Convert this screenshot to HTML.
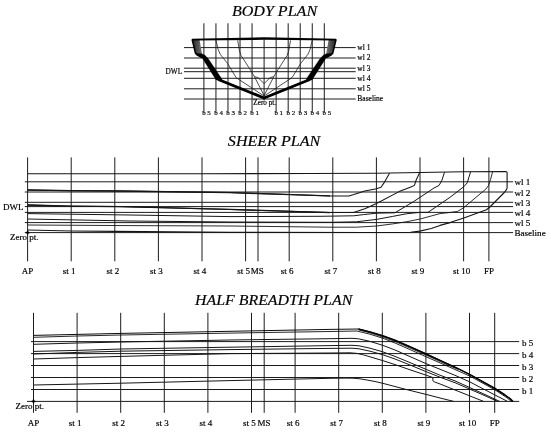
<!DOCTYPE html>
<html><head><meta charset="utf-8"><title>Lines plan</title>
<style>
html,body{margin:0;padding:0;background:#fff;}
svg{display:block;}
svg text{font-family:"Liberation Serif","DejaVu Serif",serif;fill:#000;stroke:#000;stroke-width:0.18px;}
</style></head><body>
<svg width="550" height="436" viewBox="0 0 550 436">
<defs>
<linearGradient id="gL" x1="0" x2="1" y1="0" y2="0"><stop offset="0" stop-color="#222"/><stop offset="0.5" stop-color="#555"/><stop offset="1" stop-color="#999"/></linearGradient>
<linearGradient id="gR" x1="1" x2="0" y1="0" y2="0"><stop offset="0" stop-color="#222"/><stop offset="0.5" stop-color="#555"/><stop offset="1" stop-color="#999"/></linearGradient>
</defs>
<rect width="550" height="436" fill="#fff"/>
<text transform="translate(274.5,15.6) scale(1.085,1)" font-size="14.8" font-style="italic" stroke="none" text-anchor="middle">BODY PLAN</text>
<line x1="203.90000000000003" y1="23.3" x2="203.90000000000003" y2="112.5" stroke="#1c1c1c" stroke-width="1.0"/>
<line x1="215.94000000000003" y1="23.3" x2="215.94000000000003" y2="112.5" stroke="#1c1c1c" stroke-width="1.0"/>
<line x1="227.98000000000002" y1="23.3" x2="227.98000000000002" y2="112.5" stroke="#1c1c1c" stroke-width="1.0"/>
<line x1="240.02000000000004" y1="23.3" x2="240.02000000000004" y2="112.5" stroke="#1c1c1c" stroke-width="1.0"/>
<line x1="252.06000000000003" y1="23.3" x2="252.06000000000003" y2="112.5" stroke="#1c1c1c" stroke-width="1.0"/>
<line x1="264.1" y1="39" x2="264.1" y2="100.5" stroke="#1c1c1c" stroke-width="1.0"/>
<line x1="276.14000000000004" y1="23.3" x2="276.14000000000004" y2="112.5" stroke="#1c1c1c" stroke-width="1.0"/>
<line x1="288.18" y1="23.3" x2="288.18" y2="112.5" stroke="#1c1c1c" stroke-width="1.0"/>
<line x1="300.22" y1="23.3" x2="300.22" y2="112.5" stroke="#1c1c1c" stroke-width="1.0"/>
<line x1="312.26" y1="23.3" x2="312.26" y2="112.5" stroke="#1c1c1c" stroke-width="1.0"/>
<line x1="324.3" y1="23.3" x2="324.3" y2="112.5" stroke="#1c1c1c" stroke-width="1.0"/>
<line x1="184" y1="47.6" x2="355.7" y2="47.6" stroke="#1c1c1c" stroke-width="1.0"/>
<line x1="184" y1="58" x2="355.7" y2="58" stroke="#1c1c1c" stroke-width="1.0"/>
<line x1="184" y1="68.2" x2="355.7" y2="68.2" stroke="#1c1c1c" stroke-width="1.0"/>
<line x1="184" y1="71.7" x2="355.7" y2="71.7" stroke="#1c1c1c" stroke-width="1.0"/>
<line x1="184" y1="78.3" x2="355.7" y2="78.3" stroke="#1c1c1c" stroke-width="1.0"/>
<line x1="184" y1="88.8" x2="355.7" y2="88.8" stroke="#1c1c1c" stroke-width="1.0"/>
<line x1="184" y1="99" x2="355.7" y2="99" stroke="#1c1c1c" stroke-width="1.0"/>
<text x="357.3" y="50.0" font-size="7.5" text-anchor="start" >wl 1</text>
<text x="357.3" y="60.4" font-size="7.5" text-anchor="start" >wl 2</text>
<text x="357.3" y="70.60000000000001" font-size="7.5" text-anchor="start" >wl 3</text>
<text x="357.3" y="80.7" font-size="7.5" text-anchor="start" >wl 4</text>
<text x="357.3" y="91.2" font-size="7.5" text-anchor="start" >wl 5</text>
<text x="357.3" y="101.4" font-size="7.5" text-anchor="start" >Baseline</text>
<text x="165.6" y="73.8" font-size="7.3" text-anchor="start" >DWL</text>
<text x="264.70000000000005" y="105.0" font-size="7.2" text-anchor="middle" >Zero pt.</text>
<text x="202.20000000000005" y="114.5" font-size="6.9" text-anchor="start" >b 5</text>
<text x="214.24000000000004" y="114.5" font-size="6.9" text-anchor="start" >b 4</text>
<text x="226.28000000000003" y="114.5" font-size="6.9" text-anchor="start" >b 3</text>
<text x="238.32000000000005" y="114.5" font-size="6.9" text-anchor="start" >b 2</text>
<text x="250.36000000000004" y="114.5" font-size="6.9" text-anchor="start" >b 1</text>
<text x="274.44000000000005" y="114.5" font-size="6.9" text-anchor="start" >b 1</text>
<text x="286.48" y="114.5" font-size="6.9" text-anchor="start" >b 2</text>
<text x="298.52000000000004" y="114.5" font-size="6.9" text-anchor="start" >b 3</text>
<text x="310.56" y="114.5" font-size="6.9" text-anchor="start" >b 4</text>
<text x="322.6" y="114.5" font-size="6.9" text-anchor="start" >b 5</text>
<polygon points="192.1,39.6 199.6,40.0 202.0,53.7 204.7,55.1 196.9,54.8 195.5,53.3" fill="url(#gL)" stroke="none" stroke-width="0" stroke-linejoin="round"/>
<polygon points="195.5,53.3 201.5,53.7 204.7,55.1 208.3,58.8 221.9,78.9 221.5,80.6 216.1,79.9 201.9,57.6 196.9,54.8" fill="#000" stroke="#000" stroke-width="0.3" stroke-linejoin="round"/>
<polyline points="192.1,39.2 195.5,53.3 196.9,54.8 201.9,57.6" fill="none" stroke="#000" stroke-width="1.5" stroke-linejoin="round" />
<polygon points="336.1,39.6 328.6,40.0 326.20000000000005,53.7 323.50000000000006,55.1 331.30000000000007,54.8 332.70000000000005,53.3" fill="url(#gR)" stroke="none" stroke-width="0" stroke-linejoin="round"/>
<polygon points="332.70000000000005,53.3 326.70000000000005,53.7 323.50000000000006,55.1 319.90000000000003,58.8 306.30000000000007,78.9 306.70000000000005,80.6 312.1,79.9 326.30000000000007,57.6 331.30000000000007,54.8" fill="#000" stroke="#000" stroke-width="0.3" stroke-linejoin="round"/>
<polyline points="336.1,39.2 332.70000000000005,53.3 331.30000000000007,54.8 326.30000000000007,57.6" fill="none" stroke="#000" stroke-width="1.5" stroke-linejoin="round" />
<polygon points="192.1,38.7 264.1,37.35 336.1,38.7 336.1,40.5 264.1,39.85 192.1,40.5" fill="#000" stroke="none" stroke-width="0" stroke-linejoin="round"/>
<polyline points="218.3,79.5 264.1,98 309.90000000000003,79.5" fill="none" stroke="#000" stroke-width="2.9" stroke-linejoin="round" stroke-linejoin="miter"/>
<polyline points="216,40.3 218.1,49.3 220.1,54.1 227.7,63.7 236.2,77.7 264.1,96" fill="none" stroke="#151515" stroke-width="0.75" stroke-linejoin="round" />
<polyline points="237.7,40.3 239.4,50.6 241,55.4 250.4,69.9 254.4,76.6 258,77.6 264.1,83.6" fill="none" stroke="#151515" stroke-width="0.75" stroke-linejoin="round" />
<polyline points="254.4,76.6 264.1,95.6" fill="none" stroke="#151515" stroke-width="0.75" stroke-linejoin="round" />
<polyline points="312.20000000000005,40.3 310.1,49.3 308.1,54.1 300.50000000000006,63.7 292.00000000000006,77.7 264.1,96" fill="none" stroke="#151515" stroke-width="0.75" stroke-linejoin="round" />
<polyline points="290.50000000000006,40.3 288.80000000000007,50.6 287.20000000000005,55.4 277.80000000000007,69.9 273.80000000000007,76.6 270.20000000000005,77.6 264.1,83.6" fill="none" stroke="#151515" stroke-width="0.75" stroke-linejoin="round" />
<polyline points="273.80000000000007,76.6 264.1,95.6" fill="none" stroke="#151515" stroke-width="0.75" stroke-linejoin="round" />
<text transform="translate(274,145.5) scale(1.085,1)" font-size="14.8" font-style="italic" stroke="none" text-anchor="middle">SHEER PLAN</text>
<line x1="27.6" y1="157.4" x2="27.6" y2="261.3" stroke="#1c1c1c" stroke-width="1.0"/>
<line x1="71.2" y1="157.4" x2="71.2" y2="261.3" stroke="#1c1c1c" stroke-width="1.0"/>
<line x1="114.80000000000001" y1="157.4" x2="114.80000000000001" y2="261.3" stroke="#1c1c1c" stroke-width="1.0"/>
<line x1="158.4" y1="157.4" x2="158.4" y2="261.3" stroke="#1c1c1c" stroke-width="1.0"/>
<line x1="202.0" y1="157.4" x2="202.0" y2="261.3" stroke="#1c1c1c" stroke-width="1.0"/>
<line x1="245.6" y1="157.4" x2="245.6" y2="261.3" stroke="#1c1c1c" stroke-width="1.0"/>
<line x1="289.20000000000005" y1="157.4" x2="289.20000000000005" y2="261.3" stroke="#1c1c1c" stroke-width="1.0"/>
<line x1="332.8" y1="157.4" x2="332.8" y2="261.3" stroke="#1c1c1c" stroke-width="1.0"/>
<line x1="376.40000000000003" y1="157.4" x2="376.40000000000003" y2="261.3" stroke="#1c1c1c" stroke-width="1.0"/>
<line x1="420.00000000000006" y1="157.4" x2="420.00000000000006" y2="261.3" stroke="#1c1c1c" stroke-width="1.0"/>
<line x1="463.6" y1="157.4" x2="463.6" y2="261.3" stroke="#1c1c1c" stroke-width="1.0"/>
<line x1="258.0" y1="157.4" x2="258.0" y2="261.3" stroke="#1c1c1c" stroke-width="1.0"/>
<line x1="488.9" y1="157.4" x2="488.9" y2="261.3" stroke="#1c1c1c" stroke-width="1.0"/>
<line x1="24.8" y1="181.8" x2="513.1" y2="181.8" stroke="#1c1c1c" stroke-width="1.0"/>
<line x1="24.8" y1="192.0" x2="513.1" y2="192.0" stroke="#1c1c1c" stroke-width="1.0"/>
<line x1="24.8" y1="202.3" x2="513.1" y2="202.3" stroke="#1c1c1c" stroke-width="1.0"/>
<line x1="24.8" y1="206.6" x2="513.1" y2="206.6" stroke="#1c1c1c" stroke-width="1.0"/>
<line x1="24.8" y1="212.4" x2="513.1" y2="212.4" stroke="#1c1c1c" stroke-width="1.0"/>
<line x1="24.8" y1="222.6" x2="513.1" y2="222.6" stroke="#1c1c1c" stroke-width="1.0"/>
<line x1="24.8" y1="232.6" x2="513.1" y2="232.6" stroke="#1c1c1c" stroke-width="1.0"/>
<text x="514.4" y="185.4" font-size="9.1" text-anchor="start" >wl 1</text>
<text x="514.4" y="195.6" font-size="9.1" text-anchor="start" >wl 2</text>
<text x="514.4" y="205.9" font-size="9.1" text-anchor="start" >wl 3</text>
<text x="514.4" y="216.0" font-size="9.1" text-anchor="start" >wl 4</text>
<text x="514.4" y="226.2" font-size="9.1" text-anchor="start" >wl 5</text>
<text x="514.4" y="236.2" font-size="9.1" text-anchor="start" >Baseline</text>
<text x="3.0" y="210.3" font-size="9.0" text-anchor="start" >DWL</text>
<text x="10" y="240" font-size="9.0" text-anchor="start" >Zero pt.</text>
<line x1="25.8" y1="232.6" x2="29.400000000000002" y2="232.6" stroke="#000" stroke-width="1.5"/>
<line x1="27.6" y1="230.8" x2="27.6" y2="234.4" stroke="#000" stroke-width="1.5"/>
<text x="27.6" y="274" font-size="9.0" text-anchor="middle" >AP</text>
<text x="62.800000000000004" y="274" font-size="9.0" text-anchor="start" >st 1</text>
<text x="106.4" y="274" font-size="9.0" text-anchor="start" >st 2</text>
<text x="150.0" y="274" font-size="9.0" text-anchor="start" >st 3</text>
<text x="193.6" y="274" font-size="9.0" text-anchor="start" >st 4</text>
<text x="237.2" y="274" font-size="9.0" text-anchor="start" >st 5</text>
<text x="280.80000000000007" y="274" font-size="9.0" text-anchor="start" >st 6</text>
<text x="324.40000000000003" y="274" font-size="9.0" text-anchor="start" >st 7</text>
<text x="368.00000000000006" y="274" font-size="9.0" text-anchor="start" >st 8</text>
<text x="411.6000000000001" y="274" font-size="9.0" text-anchor="start" >st 9</text>
<text x="453.0" y="274.2" font-size="9.0" text-anchor="start" >st 10</text>
<text x="250.7" y="274" font-size="9.0" text-anchor="start" >MS</text>
<text x="488.9" y="274" font-size="9.0" text-anchor="middle" >FP</text>
<polyline points="27.6,173.8 200,173.7 310,173.55 376.5,173.2 420,172.5 463,171.8 506.2,171.6 507.1,172.4 507.1,187.6 506.6,189.4 504.3,192.5 489.9,207 486.5,209.7 477.5,213.1 463.8,218 450,222.6 440,225.4 431.3,228.5 419.8,231.1 410.5,232.3 403,232.5 370,232.5 230,232.4 115,231.4 71,231 27.6,230" fill="none" stroke="#151515" stroke-width="1.1" stroke-linejoin="round" />
<polyline points="27.6,190 71,190.7 120,191 230,192.6 290,194.6 330,195.9 349,195.9 353.8,194.6 364.8,191.1 376.5,188.7 381,187.3 384,182.9 389.5,173.3" fill="none" stroke="#151515" stroke-width="1.05" stroke-linejoin="round" />
<polyline points="27.6,205 71,206.2 120,206.6 230,209.4 330,212.6 353.5,212.4 364.8,208.7 376.5,203.5 399.1,191.6 411.5,186.8 414.4,185.4 416.2,180 419.6,172.6" fill="none" stroke="#151515" stroke-width="1.05" stroke-linejoin="round" />
<polyline points="27.6,213.6 130,215 230,216.6 320,216.3 353.5,215.8 363.4,214.6 376.6,213.2 394.9,212.8 413.6,201.6 434,188 439.1,185.4 442,180 444.5,172.2" fill="none" stroke="#151515" stroke-width="1.0" stroke-linejoin="round" />
<polyline points="27.6,219 130,221 230,222 330,222.3 356.4,221.8 376.6,219.4 392.7,216.4 406.9,213.7 419.8,212.4 428.1,212.3 450,197.3 463.8,186.7 467.2,182.9 470.6,171.8" fill="none" stroke="#151515" stroke-width="1.0" stroke-linejoin="round" />
<polyline points="27.6,225 130,225.6 230,226 330,227.2 356.4,227.2 376.6,226 392.7,223.9 406.9,221.7 419.8,219.1 440,213.6 450,212.5 457.6,211.4 463.8,207.6 485.8,189.1 488.5,185.6 490.6,179.4 492.6,171.7" fill="none" stroke="#151515" stroke-width="0.9" stroke-linejoin="round" />
<polyline points="27.6,190 71,190.7 120,191 230,192.6 290,194.6 330,195.9" fill="none" stroke="#151515" stroke-width="1.35" stroke-linejoin="round" />
<polyline points="27.6,205 71,206.2 120,206.6 230,209.4 330,212.6" fill="none" stroke="#151515" stroke-width="1.35" stroke-linejoin="round" />
<text transform="translate(273.6,305.2) scale(1.075,1)" font-size="14.8" font-style="italic" stroke="none" text-anchor="middle">HALF BREADTH PLAN</text>
<line x1="33.5" y1="312.8" x2="33.5" y2="412.8" stroke="#1c1c1c" stroke-width="1.0"/>
<line x1="77.1" y1="312.8" x2="77.1" y2="412.8" stroke="#1c1c1c" stroke-width="1.0"/>
<line x1="120.7" y1="312.8" x2="120.7" y2="412.8" stroke="#1c1c1c" stroke-width="1.0"/>
<line x1="164.3" y1="312.8" x2="164.3" y2="412.8" stroke="#1c1c1c" stroke-width="1.0"/>
<line x1="207.9" y1="312.8" x2="207.9" y2="412.8" stroke="#1c1c1c" stroke-width="1.0"/>
<line x1="251.5" y1="312.8" x2="251.5" y2="412.8" stroke="#1c1c1c" stroke-width="1.0"/>
<line x1="295.1" y1="312.8" x2="295.1" y2="412.8" stroke="#1c1c1c" stroke-width="1.0"/>
<line x1="338.7" y1="312.8" x2="338.7" y2="412.8" stroke="#1c1c1c" stroke-width="1.0"/>
<line x1="382.3" y1="312.8" x2="382.3" y2="412.8" stroke="#1c1c1c" stroke-width="1.0"/>
<line x1="425.90000000000003" y1="312.8" x2="425.90000000000003" y2="412.8" stroke="#1c1c1c" stroke-width="1.0"/>
<line x1="469.5" y1="312.8" x2="469.5" y2="412.8" stroke="#1c1c1c" stroke-width="1.0"/>
<line x1="264.2" y1="312.8" x2="264.2" y2="412.8" stroke="#1c1c1c" stroke-width="1.0"/>
<line x1="494.7" y1="312.8" x2="494.7" y2="412.8" stroke="#1c1c1c" stroke-width="1.0"/>
<line x1="31" y1="341.6" x2="519.2" y2="341.6" stroke="#1c1c1c" stroke-width="1.0"/>
<text x="522" y="346.20000000000005" font-size="9.0" text-anchor="start" >b 5</text>
<line x1="31" y1="353.6" x2="519.2" y2="353.6" stroke="#1c1c1c" stroke-width="1.0"/>
<text x="522" y="358.20000000000005" font-size="9.0" text-anchor="start" >b 4</text>
<line x1="31" y1="365.5" x2="519.2" y2="365.5" stroke="#1c1c1c" stroke-width="1.0"/>
<text x="522" y="370.1" font-size="9.0" text-anchor="start" >b 3</text>
<line x1="31" y1="377.5" x2="519.2" y2="377.5" stroke="#1c1c1c" stroke-width="1.0"/>
<text x="522" y="382.1" font-size="9.0" text-anchor="start" >b 2</text>
<line x1="31" y1="389.5" x2="519.2" y2="389.5" stroke="#1c1c1c" stroke-width="1.0"/>
<text x="522" y="394.1" font-size="9.0" text-anchor="start" >b 1</text>
<line x1="27" y1="401.4" x2="519.2" y2="401.4" stroke="#1c1c1c" stroke-width="1.0"/>
<line x1="31.7" y1="401.4" x2="35.3" y2="401.4" stroke="#000" stroke-width="1.5"/>
<line x1="33.5" y1="399.6" x2="33.5" y2="403.2" stroke="#000" stroke-width="1.5"/>
<text x="15.5" y="409.1" font-size="9.0" text-anchor="start" >Zero pt.</text>
<text x="33.5" y="425.7" font-size="9.0" text-anchor="middle" >AP</text>
<text x="68.69999999999999" y="425.7" font-size="9.0" text-anchor="start" >st 1</text>
<text x="112.3" y="425.7" font-size="9.0" text-anchor="start" >st 2</text>
<text x="155.9" y="425.7" font-size="9.0" text-anchor="start" >st 3</text>
<text x="199.5" y="425.7" font-size="9.0" text-anchor="start" >st 4</text>
<text x="243.1" y="425.7" font-size="9.0" text-anchor="start" >st 5</text>
<text x="286.70000000000005" y="425.7" font-size="9.0" text-anchor="start" >st 6</text>
<text x="330.3" y="425.7" font-size="9.0" text-anchor="start" >st 7</text>
<text x="373.90000000000003" y="425.7" font-size="9.0" text-anchor="start" >st 8</text>
<text x="417.50000000000006" y="425.7" font-size="9.0" text-anchor="start" >st 9</text>
<text x="459.0" y="425.7" font-size="9.0" text-anchor="start" >st 10</text>
<text x="257.59999999999997" y="425.7" font-size="9.0" text-anchor="start" >MS</text>
<text x="494.7" y="425.7" font-size="9.0" text-anchor="middle" >FP</text>
<polyline points="33.5,335.4 77.4,334.4 121,333.4 230,331.3 330,329.4 358.4,329 370,331.9 382.7,335.8 395,340.3 410,346.8 426.2,354 446,363.1 455,367.2 470,374.6 495,388.5 505,395 510,398.6 512.8,401.4" fill="none" stroke="#000" stroke-width="0.95" stroke-linejoin="round" />
<polyline points="358.4,329 370,331.9 382.7,335.8 395,340.3 410,346.8 426.2,354 446,363.1 455,367.2 470,374.6 495,388.5 505,395 510,398.6 512.8,401.4" fill="none" stroke="#000" stroke-width="1.5" stroke-linejoin="round" />
<polyline points="358.4,329.8 370,332.9 382.7,337.0 395,341.5 410,348.0 426.2,355.2 446,364.2 458,369.4" fill="none" stroke="#000" stroke-width="0.8" stroke-linejoin="round" />
<polyline points="33.5,337.3 77.4,336 121,335 230,333.1 330,331.5 356.9,331 370,334.2 382.7,338.2 395,343.0 410,349.6 426.2,356.8 455,369.5 470,376.2 495,389.9 507,397.8 511.3,401.4" fill="none" stroke="#000" stroke-width="0.85" stroke-linejoin="round" />
<polyline points="33.5,344.3 77.4,343 121,342 230,340 330,338.7 352,338.3 358.5,338.8 370,341.4 382.7,345.3 395,350 410,356.6 426.2,363.7 455,375.3 470,382 495,395 507.5,401.4" fill="none" stroke="#151515" stroke-width="1.0" stroke-linejoin="round" />
<polyline points="33.5,351.4 77.4,350.4 121,349 230,347.2 330,345.6 352,345.3 359,345.8 370,348.2 382.7,351.8 395,356.4 410,362.6 426.2,369.4 440,375.2 455,380.9 470,387.7 486,395 499.6,401.4" fill="none" stroke="#151515" stroke-width="1.0" stroke-linejoin="round" />
<polyline points="33.5,354 77.4,352.4 121,351.2 230,349.6 330,348.4 352,348.2 359,348.8 370,351.2 382.7,354.7 395,359 410,365 426.2,371.7 440,377.2 455,382.7 470,389.2 486,396.2 497.5,401.4" fill="none" stroke="#151515" stroke-width="1.0" stroke-linejoin="round" />
<polyline points="33.5,359 77.4,357.6 121,356.4 230,353.6 330,353 350,352.8 357,353.4 363.6,354.9 382.7,360.6 395,364.6 410,369.8 426.2,375.2 432.8,377.5 432.9,380.8 434.2,381.8 440.9,384.3 455,390 470,396 483.6,401.4" fill="none" stroke="#151515" stroke-width="1.0" stroke-linejoin="round" />
<polyline points="33.5,385 121,383.2 230,380.6 330,378.3 345,378.1 353,378.2 360,378.8 367,380 375,381.5 382.7,383.3 407.1,389.7 430,395.4 440,398 453.8,401.4" fill="none" stroke="#151515" stroke-width="1.0" stroke-linejoin="round" />
</svg>
</body></html>
